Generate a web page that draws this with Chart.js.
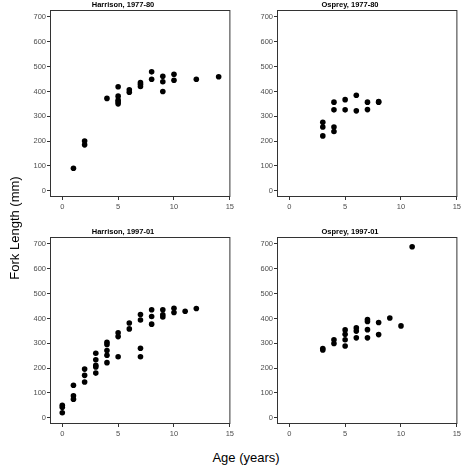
<!DOCTYPE html>
<html>
<head>
<meta charset="utf-8">
<script src="https://cdn.jsdelivr.net/npm/chart.js@4"></script>
<style>
  body { margin: 0; background: #fff; }
  #wrap { position: relative; width: 474px; height: 474px; overflow: hidden; font-family: "Liberation Sans", Arial, sans-serif; }
  canvas { position: absolute; }
  #ylab { position: absolute; left: -45px; top: 220px; width: 120px; height: 16px; line-height: 16px; text-align: center; transform: rotate(-90deg); font-size: 13px; font-weight: normal; white-space: nowrap; color: #000; }
  #xlab { position: absolute; left: 186px; top: 450px; width: 120px; height: 16px; line-height: 16px; text-align: center; font-size: 13px; font-weight: normal; white-space: nowrap; color: #000; }
</style>
</head>
<body>
<div id="wrap">
  <canvas id="c1" width="226" height="219" style="left:10px;top:0px"></canvas>
  <canvas id="c2" width="226" height="219" style="left:237px;top:0px"></canvas>
  <canvas id="c3" width="226" height="219" style="left:10px;top:227px"></canvas>
  <canvas id="c4" width="226" height="219" style="left:237px;top:227px"></canvas>
  <div id="ylab">Fork Length (mm)</div>
  <div id="xlab">Age (years)</div>
</div>
<script>
// tick labels shared by all panels
const xTicks = [0, 5, 10, 15];
const yTicks = [0, 100, 200, 300, 400, 500, 600, 700];

// Harrison, 1977-80
const harrison77Age = [1, 2, 2, 4, 5, 5, 5, 5, 5, 6, 6, 7, 7, 7, 8, 8, 9, 9, 9, 10, 10, 12, 14];
const harrison77Len = [91, 200, 185, 372, 419, 381, 365, 358, 350, 407, 397, 436, 429, 420, 479, 449, 461, 439, 400, 469, 445, 449, 459];

// Osprey, 1977-80
const osprey77Age = [3, 3, 3, 4, 4, 4, 4, 5, 5, 6, 6, 7, 7, 8, 8];
const osprey77Len = [276, 257, 221, 357, 326, 257, 239, 367, 326, 385, 322, 357, 327, 359, 357];

// Harrison, 1997-01
const harrison97Age = [0, 0, 0, 1, 1, 1, 2, 2, 2, 3, 3, 3, 3, 3, 4, 4, 4, 4, 4, 5, 5, 5, 6, 6, 7, 7, 7, 7, 8, 8, 8, 9, 9, 9, 10, 10, 11, 12];
const harrison97Len = [50, 42, 20, 131, 89, 75, 196, 171, 144, 260, 234, 211, 205, 180, 304, 295, 271, 252, 222, 342, 327, 246, 382, 358, 416, 394, 280, 246, 435, 408, 377, 435, 415, 406, 441, 424, 429, 440];

// Osprey, 1997-01
const osprey97Age = [3, 3, 4, 4, 5, 5, 5, 5, 6, 6, 6, 7, 7, 7, 7, 8, 8, 9, 10, 11];
const osprey97Len = [279, 273, 314, 299, 354, 336, 314, 289, 362, 349, 322, 396, 388, 355, 322, 384, 335, 402, 370, 689];

const font = '"Liberation Sans", Arial, sans-serif';

// frame round the plot area
const boxPlugin = {
    id: 'box',
    afterDraw(chart) {
        const a = chart.chartArea;
        const ctx = chart.ctx;
        ctx.save();
        ctx.strokeStyle = '#333';
        ctx.lineWidth = 1;
        ctx.strokeRect(a.left + 0.5, a.top + 0.5, a.right - a.left - 1, a.bottom - a.top - 1);
        ctx.restore();
    }
};

function makePanel(id, title, ages, lens) {
    const points = ages.map((a, i) => ({ x: a, y: lens[i] }));
    new Chart(document.getElementById(id), {
        type: 'scatter',
        data: {
            datasets: [{
                data: points,
                backgroundColor: '#000',
                borderWidth: 0,
                pointRadius: 2.8,
                pointHoverRadius: 2.8
            }]
        },
        options: {
            responsive: false,
            animation: false,
            devicePixelRatio: 1,
            layout: { padding: 0, autoPadding: false },
            plugins: {
                legend: { display: false },
                tooltip: { enabled: false },
                title: {
                    display: true,
                    text: title,
                    color: '#000',
                    font: { family: font, size: 7.5, weight: 'bold', lineHeight: 1.2 },
                    padding: { top: 0, bottom: 1 }
                }
            },
            scales: {
                x: {
                    type: 'linear',
                    min: -1.1,
                    max: 15.05,
                    afterBuildTicks: s => { s.ticks = xTicks.map(v => ({ value: v })); },
                    afterFit: s => { s.height = 22; },
                    grid: { drawOnChartArea: false, drawTicks: true, tickLength: 3, color: '#333' },
                    border: { display: false },
                    ticks: { color: '#4d4d4d', padding: 2, maxRotation: 0, font: { family: font, size: 7.5 } }
                },
                y: {
                    type: 'linear',
                    min: -25,
                    max: 728,
                    afterBuildTicks: s => { s.ticks = yTicks.map(v => ({ value: v })); },
                    afterFit: s => { s.width = 40; },
                    grid: { drawOnChartArea: false, drawTicks: true, tickLength: 3, color: '#333' },
                    border: { display: false },
                    ticks: { color: '#4d4d4d', padding: 1, font: { family: font, size: 7.5 } }
                }
            }
        },
        plugins: [boxPlugin]
    });
}

makePanel('c1', 'Harrison, 1977-80', harrison77Age, harrison77Len);
makePanel('c2', 'Osprey, 1977-80', osprey77Age, osprey77Len);
makePanel('c3', 'Harrison, 1997-01', harrison97Age, harrison97Len);
makePanel('c4', 'Osprey, 1997-01', osprey97Age, osprey97Len);
</script>
</body>
</html>
